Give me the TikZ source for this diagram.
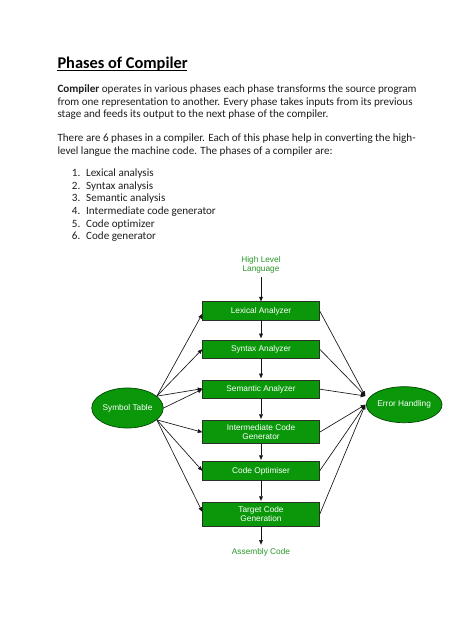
\documentclass[tikz,border=0pt]{standalone}
\usepackage{fontspec}
\setmainfont{Carlito}[Ligatures=NoCommon]
\newfontfamily\diagfont{Liberation Sans}
\usetikzlibrary{arrows.meta,shapes.geometric}
\definecolor{boxgreen}{RGB}{10,152,10}
\definecolor{boxborder}{RGB}{40,50,40}
\definecolor{ovalborder}{RGB}{0,70,0}
\definecolor{labelgreen}{RGB}{40,150,40}
\definecolor{bodytext}{RGB}{30,30,30}
\definecolor{arrowcol}{RGB}{20,20,20}
\tikzset{
  body/.style={anchor=base west, inner sep=0pt, text=bodytext, font=\fontsize{11.1}{12.4}\selectfont},
  phase/.style={draw=boxborder, line width=0.6pt, fill=boxgreen, text=white, minimum width=116.7pt,
    inner sep=0pt, align=center, font=\diagfont\fontsize{8.3}{9.3}\selectfont},
  oval/.style={ellipse, draw=ovalborder, line width=0.7pt, fill=boxgreen, text=white, inner sep=0pt,
    font=\diagfont\fontsize{8.3}{9.3}\selectfont},
  glabel/.style={text=labelgreen, inner sep=0pt, align=center, font=\diagfont\fontsize{8.3}{9}\selectfont},
  arr/.style={-{Triangle[length=4.6pt,width=3.8pt]}, line width=0.65pt, draw=arrowcol},
}
\begin{document}
\begin{tikzpicture}[x=1pt,y=-1pt]
\useasboundingbox[fill=white] (0,0) rectangle (474,632);

% title
\node[anchor=base west, inner sep=0pt, font=\fontsize{16.4}{18}\selectfont\bfseries] (title) at (57.3,68.3) {Phases of Compiler};
\draw[line width=0.9pt] (title.base west) ++(0,2.5) -- ++(130,0);

% paragraph 1
\node[body] (p1a) at (57.3,92.6) {\textbf{Compiler} operates in various phases each phase transforms the source program};
\node[body] (p1b) at (57.3,105.0) {from one representation to another. Every phase takes inputs from its previous};
\node[body] (p1c) at (57.3,117.4) {stage and feeds its output to the next phase of the compiler.};

% paragraph 2
\node[body] (p2a) at (57.3,141.6) {There are 6 phases in a compiler. Each of this phase help in converting the high-};
\node[body] (p2b) at (57.3,154.0) {level langue the machine code. The phases of a compiler are:};

% list
\foreach \n/\t [count=\i from 0] in {1/Lexical analysis,2/Syntax analysis,3/Semantic analysis,4/Intermediate code generator,5/Code optimizer,6/Code generator}{
  \node[body] (num\n) at (71.7,176.6+12.67*\i) {\n.};
  \node[body] (item\n) at (86,176.6+12.67*\i) {\t};
}

% diagram
\node[glabel] (hll) at (261,264.5) {High Level\\Language};
\node[phase, minimum height=18.3pt] (lex) at (261,310.85) {Lexical Analyzer};
\node[phase, minimum height=18.3pt] (syn) at (261,349.15) {Syntax Analyzer};
\node[phase, minimum height=18.3pt] (sem) at (261,389.15) {Semantic Analyzer};
\node[phase, minimum height=23pt] (icg) at (261,432.2) {Intermediate Code\\Generator};
\node[phase, minimum height=18.3pt] (opt) at (261,470.85) {Code Optimiser};
\node[phase, minimum height=23.3pt] (tcg) at (261,514.35) {Target Code\\Generation};
\node[glabel] (asm) at (261,552.7) {Assembly Code};

\node[oval, minimum width=71.5pt, minimum height=40pt] (sym) at (127.5,408) {Symbol Table};
\node[oval, minimum width=75pt, minimum height=36pt] (err) at (404.2,404.7) {Error Handling};

% vertical flow
\draw[arr, shorten <=4pt] (hll.south) -- (lex.north);
\draw[arr, shorten >=1.5pt] (lex.south) -- (syn.north);
\draw[arr, shorten >=1.5pt] (syn.south) -- (sem.north);
\draw[arr, shorten >=1.5pt] (sem.south) -- (icg.north);
\draw[arr, shorten >=1.5pt] (icg.south) -- (opt.north);
\draw[arr, shorten >=1.5pt] (opt.south) -- (tcg.north);
\draw[arr, shorten >=4pt] (tcg.south) -- (asm.north);

% symbol table links
\draw[arr] (sym.22) -- ([yshift=-3pt]lex.west);
\draw[arr] (sym.22) -- (syn.west);
\draw[arr] (sym.22) -- ([yshift=0.5pt]sem.west);
\draw[arr] (sym.0) -- (sem.west);
\draw[arr] (sym.-22) -- (icg.west);
\draw[arr] (sym.-22) -- (opt.west);
\draw[arr] (sym.-22) -- ([yshift=2.5pt]tcg.west);

% error handling links
\draw[arr] (lex.east) -- ([shift={(-0.7,-8.7)}]err.west);
\draw[arr] (syn.east) -- ([shift={(-0.7,-8.7)}]err.west);
\draw[arr] (sem.east) -- ([shift={(-0.7,-8.7)}]err.west);
\draw[arr] (icg.east) -- ([xshift=-0.7pt]err.west);
\draw[arr] (opt.east) -- ([xshift=-0.7pt]err.west);
\draw[arr] (tcg.east) -- ([xshift=-0.7pt]err.west);
\end{tikzpicture}
\end{document}
